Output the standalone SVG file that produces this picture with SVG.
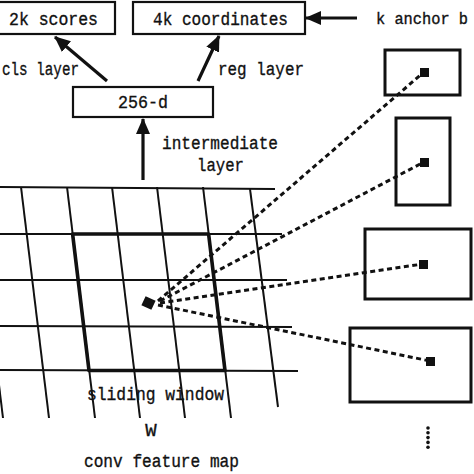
<svg xmlns="http://www.w3.org/2000/svg" width="474" height="474" viewBox="0 0 474 474">
<defs>
<style>
text{font-family:"Liberation Mono","DejaVu Sans Mono",monospace;font-size:19px;fill:#111;stroke:#111;stroke-width:0.35;}
.box{fill:#fff;stroke:#111;stroke-width:2.2;}
.abox{fill:none;stroke:#111;stroke-width:3;}
.grid{stroke:#111;stroke-width:2;fill:none;}
.bold{stroke:#111;stroke-width:3.6;fill:none;stroke-linejoin:round;}
.arrow{stroke:#111;stroke-width:3.2;fill:none;marker-end:url(#ah);}
.dash{stroke:#111;stroke-width:3;fill:none;stroke-dasharray:5 3.5;}
</style>
<marker id="ah" markerUnits="userSpaceOnUse" markerWidth="18" markerHeight="14" refX="15" refY="7" orient="auto">
<path d="M0,0 L16,7 L0,14 Z" fill="#111"/>
</marker>
</defs>

<g id="grid">
<line class="grid" x1="0" y1="187" x2="275" y2="189"/>
<line class="grid" x1="0" y1="234" x2="282" y2="234"/>
<line class="grid" x1="0" y1="280" x2="287" y2="280"/>
<line class="grid" x1="0" y1="326" x2="292" y2="327"/>
<line class="grid" x1="0" y1="370" x2="298" y2="371"/>
<line class="grid" x1="-25" y1="187" x2="3" y2="418"/>
<line class="grid" x1="21" y1="187" x2="49" y2="418"/>
<line class="grid" x1="67" y1="187" x2="95" y2="418"/>
<line class="grid" x1="112" y1="187" x2="140" y2="418"/>
<line class="grid" x1="157" y1="187" x2="185" y2="418"/>
<line class="grid" x1="203" y1="187" x2="231" y2="418"/>
<line class="grid" x1="250" y1="189" x2="278" y2="407"/>
<path class="bold" d="M72.6,234 L208.6,234 L225,370.5 L89,370.5 Z"/>
</g>

<g id="center-point">
<rect x="143" y="298" width="11" height="10" fill="#111" transform="rotate(25 148.5 303)"/>
</g>

<g id="node-2k-scores">
<rect class="box" x="-3" y="2" width="118" height="32"/>
<text x="9" y="25" textLength="89" lengthAdjust="spacingAndGlyphs">2k scores</text>
</g>

<g id="node-4k-coordinates">
<rect class="box" x="133" y="2" width="172" height="32"/>
<text x="153" y="25" textLength="135" lengthAdjust="spacingAndGlyphs">4k coordinates</text>
</g>

<g id="node-256d">
<rect class="box" x="73" y="87" width="140" height="30"/>
<text x="118" y="108" textLength="50" lengthAdjust="spacingAndGlyphs">256-d</text>
</g>

<g id="label-anchor">
<text x="376" y="24" style="font-size:16px" textLength="92" lengthAdjust="spacingAndGlyphs">k anchor b</text>
</g>

<g id="anchor-box-1">
<rect class="abox" x="385" y="50" width="75" height="45"/>
<rect x="420" y="68" width="9" height="9" fill="#111"/>
</g>
<g id="anchor-box-2">
<rect class="abox" x="396" y="118" width="54" height="87"/>
<rect x="420" y="158" width="9" height="9" fill="#111"/>
</g>
<g id="anchor-box-3">
<rect class="abox" x="365" y="229" width="106" height="70"/>
<rect x="419" y="260" width="9" height="9" fill="#111"/>
</g>
<g id="anchor-box-4">
<rect class="abox" x="350" y="328" width="121" height="74"/>
<rect x="426" y="357" width="9" height="9" fill="#111"/>
</g>

<g id="connectors">
<line class="arrow" x1="107" y1="81" x2="55" y2="37"/>
<line class="arrow" x1="198" y1="81" x2="219" y2="36"/>
<line class="arrow" x1="143" y1="180" x2="143" y2="119"/>
<line class="arrow" x1="357" y1="18" x2="306" y2="18"/>
<line class="dash" x1="158" y1="301" x2="424" y2="72"/>
<line class="dash" x1="160" y1="301" x2="424" y2="162"/>
<line class="dash" x1="160" y1="303" x2="423" y2="264"/>
<line class="dash" x1="158" y1="305" x2="430" y2="361"/>
</g>

<g id="labels">
<text x="2" y="75" textLength="77" lengthAdjust="spacingAndGlyphs">cls layer</text>
<text x="218" y="75" textLength="86" lengthAdjust="spacingAndGlyphs">reg layer</text>
<text x="162" y="149" textLength="116" lengthAdjust="spacingAndGlyphs">intermediate</text>
<text x="197" y="171" textLength="47" lengthAdjust="spacingAndGlyphs">layer</text>
<text x="87" y="400" textLength="137" lengthAdjust="spacingAndGlyphs">sliding window</text>
<text x="151" y="436" text-anchor="middle">W</text>
<text x="84" y="467" textLength="155" lengthAdjust="spacingAndGlyphs">conv feature map</text>
</g>

<g id="ellipsis" fill="#111">
<circle cx="428" cy="428" r="1.8"/>
<circle cx="428" cy="432.8" r="1.8"/>
<circle cx="428" cy="437.6" r="1.8"/>
<circle cx="428" cy="442.4" r="1.8"/>
<circle cx="428" cy="447.2" r="1.8"/>
</g>
</svg>
